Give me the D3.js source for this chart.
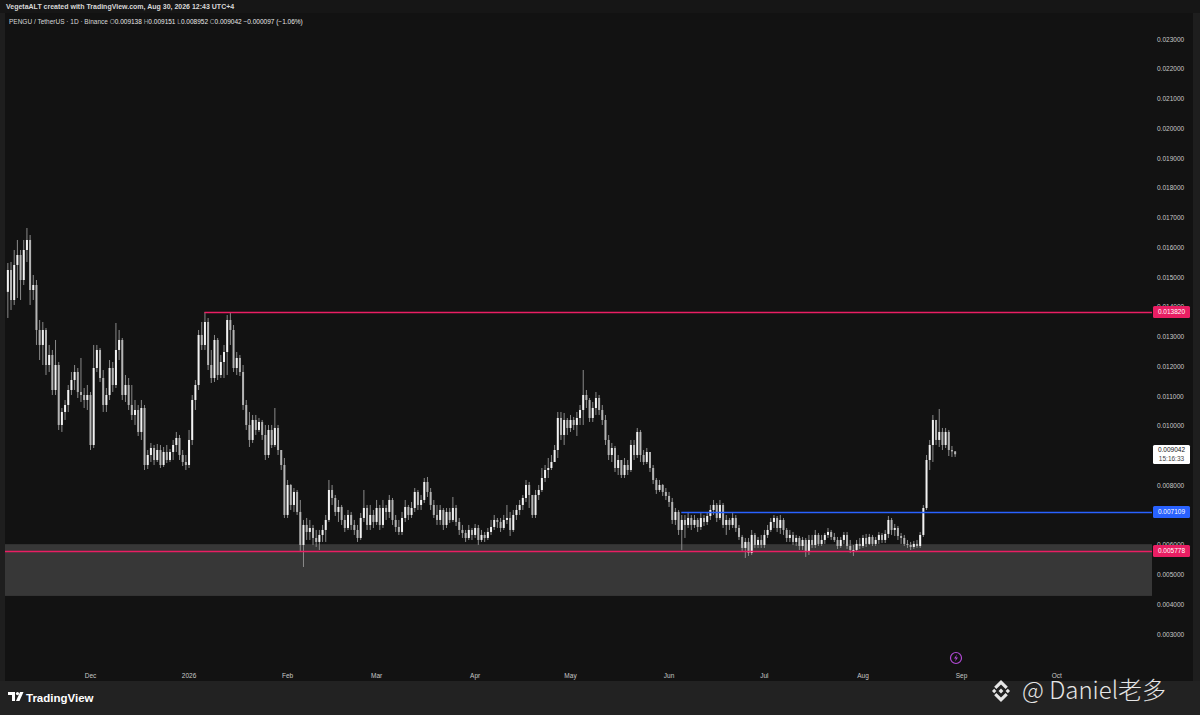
<!DOCTYPE html>
<html>
<head>
<meta charset="utf-8">
<script src="https://cdn.jsdelivr.net/npm/d3@7"></script>
<style>
  html, body { margin: 0; padding: 0; background: #1e1e1e; }
  svg { display: block; }
  text { font-family: "Liberation Sans", "DejaVu Sans", sans-serif; }
</style>
</head>
<body>
<script>
// PENGU / TetherUS daily candles, prices in millionths of USDT
const firstDay = "2025-11-05";
const firstOpen = 14500;
const closes = [
  15235, 14227, 15404, 15740, 14899, 15908, 16244, 14563, 14731, 13219,
  12715, 13219, 12042, 12379, 11202, 12042, 10026, 10463, 10698, 11202,
  11538, 11807, 11135, 11034, 10866, 11034, 9353, 11941, 12547, 11605,
  10698, 11034, 11941, 11370, 12547, 12883, 11034, 11370, 10698, 10362,
  10530, 9791, 10597, 8681, 9017, 9252, 8849, 9185, 8681, 9118,
  8849, 9118, 9353, 9589, 9017, 8782, 8681, 9522, 10866, 11370,
  13051, 12715, 13488, 12042, 11605, 12883, 11706, 12143, 12479, 13555,
  13219, 11941, 12278, 11807, 10698, 10026, 9522, 10194, 9858, 10127,
  9690, 9017, 9858, 9353, 9925, 9185, 8681, 7001, 8009, 7337,
  7774, 7102, 5993, 6665, 6430, 6564, 6228, 6094, 6329, 6497,
  6833, 7841, 7572, 7102, 7270, 6833, 6564, 7001, 6665, 6497,
  6228, 6900, 7236, 6665, 7001, 6766, 7236, 6665, 7236, 7102,
  7505, 6833, 6598, 6430, 6900, 7270, 7001, 7236, 7774, 7337,
  7505, 8110, 7774, 7337, 7001, 6833, 7169, 6665, 7102, 6833,
  7236, 6766, 6497, 6396, 6228, 6497, 6329, 6564, 6161, 6329,
  6228, 6430, 6598, 6833, 6766, 6564, 6833, 6900, 6497, 7001,
  7169, 7337, 7572, 8009, 7673, 7001, 7673, 7841, 8244, 8513,
  8580, 8782, 9185, 10261, 9690, 10194, 9925, 10194, 10026, 10261,
  10530, 11034, 10866, 10261, 10597, 10933, 10530, 10194, 9522, 9017,
  9252, 8580, 8849, 8345, 8681, 8513, 9353, 9017, 9791, 9017,
  8782, 9118, 8580, 8177, 7841, 8009, 7774, 7640, 7438, 6833,
  7102, 6497, 6833, 6665, 6900, 6665, 6833, 6598, 6900, 6766,
  6967, 7169, 7337, 6900, 7337, 6665, 6833, 6665, 6900, 6564,
  6262, 5892, 6094, 5724, 6329, 5993, 6161, 5993, 6329, 6497,
  6766, 6900, 6564, 6833, 6497, 6228, 6329, 6094, 6228, 5959,
  6161, 5758, 6161, 5993, 6329, 6027, 6161, 6329, 6430, 6262,
  6161, 5959, 6161, 6329, 5959, 5825, 5825, 6027, 5959, 6228,
  6027, 6262, 6027, 6161, 6329, 6161, 6363, 6833, 6497, 6564,
  6295, 6228, 6027, 5993, 5926, 6027, 5959, 6329, 7236, 8849,
  9353, 10194, 9522, 9791, 9353, 9791, 9185, 9138, 9042
];
const highs = [
  15471, 15505, 15908, 16244, 15908, 16244, 16647, 16412, 15067, 14899,
  13555, 13488, 13286, 12715, 12547, 12883, 12143, 10597, 10866, 11370,
  11807, 12042, 11941, 12278, 11269, 11370, 11135, 12715, 12715, 12614,
  11874, 11269, 12210, 12143, 13454, 13219, 12950, 11706, 11605, 11370,
  10866, 10698, 10866, 10698, 9185, 9421, 9353, 9387, 9353, 9286,
  9353, 9219, 9522, 9791, 9690, 9185, 9017, 9858, 11034, 11538,
  13219, 13488, 13820, 13622, 12547, 13051, 12950, 12379, 12715, 13723,
  13800, 13386, 12479, 12379, 12042, 10866, 10463, 10362, 10362, 10262,
  10194, 10026, 10026, 10026, 10597, 10026, 9185, 8916, 8177, 8043,
  7908, 7841, 7505, 6833, 6900, 6833, 6665, 6497, 6497, 6665,
  7001, 8177, 8009, 7673, 7505, 7337, 7001, 7169, 7102, 6833,
  6665, 7068, 7841, 7337, 7337, 7169, 7505, 7337, 7505, 7337,
  7673, 7572, 7001, 6833, 7102, 7505, 7337, 7438, 7908, 7841,
  7673, 8244, 8278, 7908, 7505, 7337, 7337, 7236, 7236, 7236,
  7606, 7337, 6900, 6665, 6497, 6665, 6564, 6699, 6665, 6497,
  6430, 6564, 6833, 7001, 6900, 6900, 7001, 7337, 7102, 7169,
  7337, 7505, 7673, 8177, 8110, 7505, 7841, 8009, 8580, 8681,
  8916, 9017, 9353, 10463, 10463, 10429, 10261, 10362, 10295, 10463,
  10698, 11874, 11202, 10933, 10799, 11135, 11034, 10698, 10362, 9690,
  9421, 9320, 9017, 8782, 8916, 8849, 9522, 9522, 9925, 9858,
  9185, 9252, 9118, 8681, 8244, 8177, 8043, 7908, 7774, 7572,
  7236, 7169, 7001, 7001, 7102, 7001, 7001, 6900, 7102, 7001,
  7102, 7337, 7505, 7404, 7505, 7404, 7001, 6900, 7068, 7001,
  6665, 6329, 6228, 6228, 6497, 6396, 6262, 6329, 6497, 6665,
  6900, 7001, 6967, 7001, 6900, 6564, 6497, 6430, 6329, 6295,
  6262, 6228, 6329, 6329, 6497, 6396, 6329, 6396, 6564, 6497,
  6396, 6262, 6262, 6430, 6430, 6161, 5993, 6161, 6228, 6329,
  6363, 6363, 6329, 6262, 6430, 6396, 6497, 6967, 6900, 6699,
  6631, 6396, 6329, 6161, 6094, 6127, 6161, 6430, 7337, 9017,
  9522, 10362, 10026, 10564, 9925, 9925, 9858, 9320, 9151
];
const lows = [
  13622, 13891, 14059, 14294, 14227, 14731, 15505, 14059, 14227, 12715,
  12210, 12042, 11706, 11807, 11034, 11034, 9858, 9791, 10194, 10463,
  11034, 11202, 10933, 10799, 10597, 10530, 9185, 9252, 11807, 11471,
  10463, 10463, 10866, 11135, 11269, 12210, 10866, 10799, 10530, 10194,
  10026, 9656, 9522, 8513, 8547, 8782, 8681, 8782, 8580, 8614,
  8748, 8782, 8849, 9118, 8849, 8647, 8513, 8580, 9353, 10530,
  11202, 12547, 12547, 11874, 11437, 11471, 11538, 11605, 11605, 11706,
  12715, 11807, 11706, 11672, 10530, 9858, 9286, 9421, 9690, 9791,
  9522, 8849, 8916, 9252, 9286, 9017, 8513, 6900, 6900, 7169,
  7102, 7001, 5758, 5253, 6161, 6161, 5993, 5926, 5825, 6094,
  6094, 6766, 7337, 6967, 6766, 6665, 6430, 6497, 6497, 6329,
  6094, 6161, 6766, 6497, 6497, 6564, 6665, 6497, 6564, 6833,
  6900, 6665, 6430, 6329, 6329, 6766, 6833, 6900, 7102, 7169,
  7169, 7404, 7606, 7169, 6900, 6665, 6665, 6497, 6564, 6732,
  6766, 6631, 6329, 6228, 6094, 6161, 6161, 6228, 5993, 6094,
  6094, 6161, 6329, 6497, 6564, 6430, 6497, 6699, 6295, 6430,
  6833, 7001, 7169, 7438, 7236, 6900, 6900, 7505, 7774, 8110,
  8244, 8513, 8782, 8916, 9522, 9353, 9690, 9791, 9858, 9656,
  10026, 10026, 10597, 10127, 10127, 10362, 10362, 10026, 9353, 8849,
  8782, 8446, 8345, 8244, 8244, 8345, 8446, 8849, 8916, 8782,
  8681, 8715, 8446, 8043, 7707, 7774, 7640, 7505, 7270, 6699,
  6665, 6329, 5825, 6228, 6564, 6497, 6564, 6430, 6497, 6631,
  6665, 6833, 7001, 6766, 6833, 6564, 6329, 6497, 6564, 6430,
  6161, 5758, 5556, 5623, 5657, 5892, 5892, 5892, 5892, 6228,
  6430, 6564, 6430, 6363, 6329, 6094, 6094, 5993, 5959, 5825,
  5825, 5590, 5657, 5892, 5892, 5959, 5959, 6027, 6228, 6161,
  6094, 5859, 5892, 6027, 5859, 5724, 5623, 5758, 5859, 5892,
  5926, 5993, 5959, 5959, 6027, 6060, 6060, 6228, 6329, 6295,
  6161, 6027, 5959, 5892, 5825, 5859, 5892, 5892, 6262, 7169,
  8513, 8782, 9353, 9286, 9185, 9252, 8983, 8950, 8952
];

// header values as shown by the chart legend
const legendOHLC = [["O", "0.009138"], ["H", "0.009151"], ["L", "0.008952"], ["C", "0.009042"]];
const legendChange = "−0.000097 (−1.06%)";

// drawn levels
const levels = [
  { price: 0.013820, from: "2026-01-06", color: "#e91e63" },
  { price: 0.007109, from: "2026-06-05", color: "#2962ff" },
  { price: 0.005778, from: "2025-11-01", color: "#e91e63" }
];
const zone = { top: 0.00602, bottom: 0.00428 };
const monthTicks = ["2025-12-01", "2026-01-01", "2026-02-01", "2026-03-01", "2026-04-01", "2026-05-01",
  "2026-06-01", "2026-07-01", "2026-08-01", "2026-09-01", "2026-10-01"];
// 0.007 and 0.009 sit under the price tags, so they are not shown
const priceTicks = [3, 4, 5, 6, 8, 10, 11, 12, 13, 14, 15, 16, 17, 18, 19, 20, 21, 22, 23].map(v => v / 1000);
const lastPrice = 0.009042;
const countdown = "15:16:33";

const W = 1200, H = 715;
const pane = { left: 5, top: 13, right: 1193, bottom: 681, axisX: 1152 };

const parse = d3.utcParse("%Y-%m-%d");
const dayMs = 86400000;
const start = parse(firstDay);

const candles = closes.map((c, i) => {
  const o = i === 0 ? firstOpen : closes[i - 1];
  return {
    date: new Date(start.getTime() + i * dayMs),
    open: o / 1e6,
    close: c / 1e6,
    high: Math.max(highs[i], o, c) / 1e6,
    low: Math.min(lows[i], o, c) / 1e6
  };
});

const x = d3.scaleUtc()
  .domain([parse("2025-12-01"), parse("2026-09-01")])
  .range([90, 961]);

const y = d3.scaleLinear()
  .domain([0.003, 0.023])
  .range([634, 39]);

const svg = d3.select("body").append("svg")
  .attr("width", W)
  .attr("height", H);

// frame
svg.append("rect").attr("width", W).attr("height", H).attr("fill", "#1e1e1e");
svg.append("rect").attr("x", 0).attr("y", 0).attr("width", W).attr("height", 13).attr("fill", "#161616");
svg.append("rect")
  .attr("x", pane.left).attr("y", pane.top)
  .attr("width", pane.right - pane.left).attr("height", pane.bottom - pane.top)
  .attr("fill", "#121212");
svg.append("rect").attr("x", 0).attr("y", pane.bottom).attr("width", W).attr("height", H - pane.bottom).attr("fill", "#222222");

svg.append("text")
  .attr("x", 6).attr("y", 9)
  .style("font-size", "7px").style("font-weight", "bold")
  .attr("fill", "#d8d8d8")
  .text("VegetaALT created with TradingView.com, Aug 30, 2026 12:43 UTC+4");

svg.append("clipPath").attr("id", "plot")
  .append("rect")
  .attr("x", pane.left).attr("y", pane.top)
  .attr("width", pane.axisX - pane.left).attr("height", pane.bottom - pane.top);

const plot = svg.append("g").attr("clip-path", "url(#plot)");

// support zone
plot.append("rect")
  .attr("x", pane.left)
  .attr("y", y(zone.top))
  .attr("width", pane.axisX - pane.left)
  .attr("height", y(zone.bottom) - y(zone.top))
  .attr("fill", "#373737");

// candles
const bw = 2;
const candle = plot.selectAll(".candle")
  .data(candles)
  .enter().append("g")
  .attr("class", "candle");

candle.append("line")
  .attr("x1", d => x(d.date) + 0.5)
  .attr("x2", d => x(d.date) + 0.5)
  .attr("y1", d => y(d.high))
  .attr("y2", d => y(d.low))
  .attr("stroke", "#8a8a8a")
  .attr("stroke-width", 1);

candle.append("rect")
  .attr("x", d => x(d.date) - bw / 2 + 0.5)
  .attr("y", d => y(Math.max(d.open, d.close)))
  .attr("width", bw)
  .attr("height", d => Math.max(1, Math.abs(y(d.open) - y(d.close))))
  .attr("fill", d => d.close >= d.open ? "#f2f2f2" : "#b4b4b4");

// horizontal levels
plot.selectAll(".level")
  .data(levels)
  .enter().append("line")
  .attr("class", "level")
  .attr("x1", d => Math.max(pane.left, x(parse(d.from))))
  .attr("x2", pane.axisX)
  .attr("y1", d => Math.round(y(d.price)) + 0.5)
  .attr("y2", d => Math.round(y(d.price)) + 0.5)
  .attr("stroke", d => d.color)
  .attr("stroke-width", 1.3);

// price axis
const yAxis = svg.append("g")
  .attr("transform", `translate(${pane.axisX},0)`)
  .call(d3.axisRight(y).tickValues(priceTicks).tickSize(0).tickPadding(5).tickFormat(d3.format(".6f")));
yAxis.select(".domain").remove();
yAxis.selectAll("text")
  .attr("fill", "#c8c8c8")
  .style("font-size", "6.5px")
  .style("font-family", "Liberation Sans, sans-serif");

// time axis
const xAxis = svg.append("g")
  .attr("transform", "translate(0,670)")
  .call(d3.axisBottom(x)
    .tickValues(monthTicks.map(parse))
    .tickSize(0)
    .tickFormat(d => d.getUTCMonth() === 0 ? d3.utcFormat("%Y")(d) : d3.utcFormat("%b")(d)));
xAxis.select(".domain").remove();
xAxis.selectAll("text")
  .attr("fill", "#c8c8c8")
  .style("font-size", "6.5px")
  .style("font-family", "Liberation Sans, sans-serif");

// price labels for levels
const tag = svg.selectAll(".tag")
  .data(levels)
  .enter().append("g")
  .attr("class", "tag")
  .attr("transform", d => `translate(${pane.axisX + 1},${Math.round(y(d.price))})`);
tag.append("rect")
  .attr("x", 0).attr("y", -6).attr("width", 37).attr("height", 12).attr("rx", 1.5)
  .attr("fill", d => d.color);
tag.append("text")
  .attr("x", 18.5).attr("y", 0).attr("dy", "0.35em")
  .attr("text-anchor", "middle")
  .attr("fill", "#ffffff")
  .style("font-size", "6.5px")
  .text(d => d3.format(".6f")(d.price));

// last price tag
const lp = svg.append("g").attr("transform", `translate(${pane.axisX + 1},${Math.round(y(lastPrice)) - 4})`);
lp.append("rect").attr("x", 0).attr("y", -5).attr("width", 37).attr("height", 19).attr("rx", 1.5).attr("fill", "#ffffff");
lp.append("text").attr("x", 18.5).attr("y", 0).attr("dy", "0.35em").attr("text-anchor", "middle")
  .attr("fill", "#131313").style("font-size", "6.5px").text(d3.format(".6f")(lastPrice));
lp.append("text").attr("x", 18.5).attr("y", 8.5).attr("dy", "0.35em").attr("text-anchor", "middle")
  .attr("fill", "#444").style("font-size", "6.5px").text(countdown);

// legend
const legend = svg.append("text")
  .attr("x", 9).attr("y", 24)
  .style("font-size", "6.5px")
  .attr("fill", "#d8d8d8");
legend.append("tspan").text("PENGU / TetherUS · 1D · Binance  ");
legendOHLC.forEach(([k, v]) => {
  legend.append("tspan").attr("fill", "#9a9a9a").text(" " + k);
  legend.append("tspan").attr("fill", "#e8e8e8").text(v);
});
legend.append("tspan").attr("fill", "#e8e8e8").text("  " + legendChange);

// event icon near Sep
const ev = svg.append("g").attr("transform", "translate(956,658)");
ev.append("circle").attr("r", 5.5).attr("fill", "none").attr("stroke", "#b24ad6").attr("stroke-width", 1.2);
ev.append("path").attr("d", "M1,-3.5 L-2,0.5 L0,0.5 L-1,3.5 L2,-0.5 L0,-0.5 Z").attr("fill", "#b24ad6");

// TradingView logo
const tv = svg.append("g").attr("transform", "translate(8,692)");
tv.append("path").attr("d", "M0,0 H7 V9 H4 V3 H0 Z").attr("fill", "#ffffff");
tv.append("circle").attr("cx", 9.5).attr("cy", 1.6).attr("r", 1.6).attr("fill", "#ffffff");
tv.append("path").attr("d", "M12,0 H15.5 L11.5,9 H8 Z").attr("fill", "#ffffff");
svg.append("text")
  .attr("x", 26).attr("y", 701.5)
  .style("font-size", "11.5px").style("font-weight", "bold")
  .attr("fill", "#ffffff")
  .text("TradingView");

// watermark (Binance mark + handle)
const s = 11;
const bn = svg.append("g")
  .attr("transform", `translate(1001,691) scale(${s})`)
  .attr("fill", "#e6e6e6");
bn.append("path").attr("d", "M0,-0.22 L0.22,0 L0,0.22 L-0.22,0 Z");
bn.append("path").attr("d", "M-0.62,-0.2 L-0.42,0 L-0.62,0.2 L-0.82,0 Z");
bn.append("path").attr("d", "M0.62,-0.2 L0.82,0 L0.62,0.2 L0.42,0 Z");
bn.append("path").attr("d", "M0,-1 L0.62,-0.38 L0.42,-0.18 L0,-0.6 L-0.42,-0.18 L-0.62,-0.38 Z");
bn.append("path").attr("d", "M0,1 L0.62,0.38 L0.42,0.18 L0,0.6 L-0.42,0.18 L-0.62,0.38 Z");
svg.append("text")
  .attr("x", 1022).attr("y", 699)
  .style("font-size", "24px")
  .style("font-family", "'Noto Sans CJK SC', 'Noto Sans', sans-serif")
  .style("font-weight", 300)
  .attr("fill", "#e6e6e6")
  .text("@ Daniel老多");
</script>
</body>
</html>
